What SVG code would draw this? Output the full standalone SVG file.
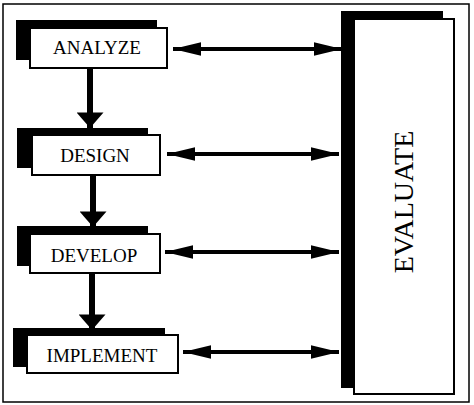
<svg xmlns="http://www.w3.org/2000/svg" width="474" height="405" viewBox="0 0 474 405">
<style>
.shadow{fill:#000}
.box{fill:#fff;stroke:#000;stroke-width:2}
.lbl{font-family:"Liberation Serif","Times New Roman",serif;font-size:19px;fill:#000;text-anchor:middle}
.big{font-family:"Liberation Serif","Times New Roman",serif;font-size:28px;fill:#000;text-anchor:middle}
.flow{stroke:#000;stroke-width:6;fill:none}
.link{stroke:#000;stroke-width:4;fill:none}
</style>
<defs>
<marker id="hv" viewBox="0 0 10 10" refX="10" refY="5" markerWidth="2.6" markerHeight="4.5" markerUnits="strokeWidth" orient="auto" preserveAspectRatio="none">
<path d="M0,0 L10,5 L0,10 Z" fill="#000"/>
</marker>
<marker id="hh" viewBox="0 0 10 10" refX="10" refY="5" markerWidth="7" markerHeight="3.4" markerUnits="strokeWidth" orient="auto-start-reverse" preserveAspectRatio="none">
<path d="M0,0 L10,5 L0,10 Z" fill="#000"/>
</marker>
</defs>
<rect x="3" y="4" width="466" height="398" fill="#fff" stroke="#000" stroke-width="1.5"/>
<g id="connectors">
<line class="flow" x1="90" y1="68" x2="90" y2="128" marker-end="url(#hv)"/>
<line class="flow" x1="93" y1="175" x2="93" y2="227" marker-end="url(#hv)"/>
<line class="flow" x1="92" y1="273" x2="92" y2="330" marker-end="url(#hv)"/>
<line class="link" x1="173" y1="49" x2="342" y2="49" marker-start="url(#hh)" marker-end="url(#hh)"/>
<line class="link" x1="167" y1="154" x2="339" y2="154" marker-start="url(#hh)" marker-end="url(#hh)"/>
<line class="link" x1="165" y1="252" x2="339" y2="252" marker-start="url(#hh)" marker-end="url(#hh)"/>
<line class="link" x1="183" y1="352" x2="339" y2="352" marker-start="url(#hh)" marker-end="url(#hh)"/>
</g>
<g id="analyze">
<rect class="shadow" x="16" y="20" width="141" height="40"/>
<rect class="box" x="30" y="28" width="137" height="40"/>
<text class="lbl" x="97" y="54">ANALYZE</text>
</g>
<g id="design">
<rect class="shadow" x="17" y="128" width="131" height="40"/>
<rect class="box" x="32" y="135" width="128" height="40"/>
<text class="lbl" x="95" y="162">DESIGN</text>
</g>
<g id="develop">
<rect class="shadow" x="17" y="226" width="131" height="40"/>
<rect class="box" x="30" y="234" width="130" height="39"/>
<text class="lbl" x="94" y="262">DEVELOP</text>
</g>
<g id="implement">
<rect class="shadow" x="13" y="328" width="152" height="39"/>
<rect class="box" x="27" y="335" width="151" height="38"/>
<text class="lbl" x="102" y="362">IMPLEMENT</text>
</g>
<g id="evaluate">
<rect class="shadow" x="341" y="11" width="102" height="377"/>
<rect class="box" x="354" y="19" width="100" height="375"/>
<text class="big" transform="translate(413,202) rotate(-90)">EVALUATE</text>
</g>
</svg>
